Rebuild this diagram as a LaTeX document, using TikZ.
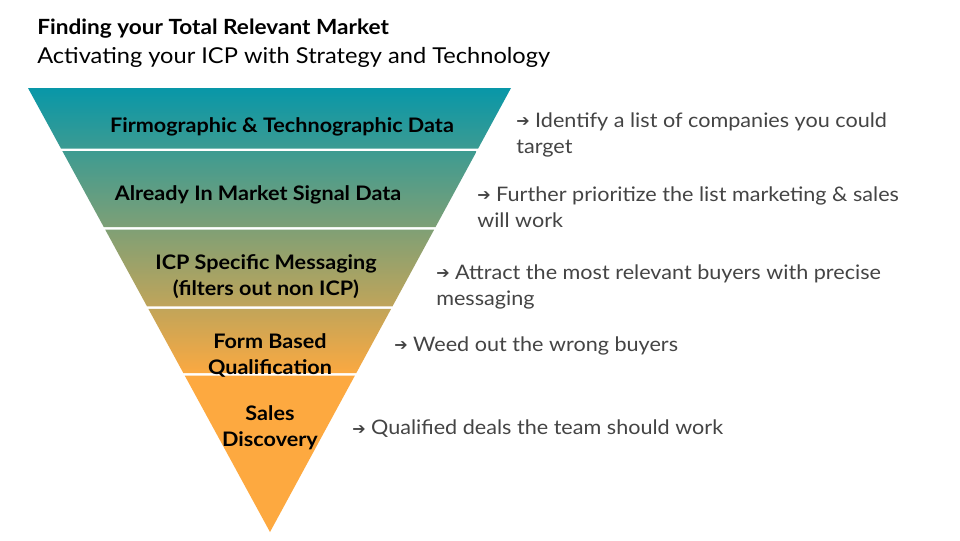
\documentclass[tikz,border=0pt]{standalone}
\usepackage{fontspec}
\setmainfont{Lato}[FakeStretch=1.08]
\newfontfamily\arrowglyph{DejaVu Sans}
\usetikzlibrary{calc}
\definecolor{fTop}{HTML}{0897A8}
\definecolor{fBot}{HTML}{FDA940}
\definecolor{noteGray}{HTML}{444444}
\newcommand{\notearrow}{\raisebox{0.6pt}{\arrowglyph\fontsize{12}{12}\selectfont ➔}\ }
\begin{document}
\begin{tikzpicture}[x=0.75pt, y=-0.75pt,
  lab/.style={font=\bfseries\fontsize{15}{19.5}\selectfont, align=center, inner sep=0pt},
  note/.style={font=\fontsize{15}{19.5}\selectfont, text=noteGray, align=left, anchor=west, inner sep=0pt}]
  \fill[white] (0,0) rectangle (960,540);
  \useasboundingbox (0,0) rectangle (960,540);
  \node[font=\bfseries\fontsize{15.7}{18}\selectfont, anchor=west, inner sep=0pt] (title) at (37,29) {Finding your Total Relevant Market};
  \node[font=\fontsize{16.4}{18}\selectfont, anchor=west, inner sep=0pt] (subtitle) at (37,57) {Activating your ICP with Strategy and Technology};
  % funnel corners
  \coordinate (tl) at (28,88);
  \coordinate (tr) at (511,88);
  \coordinate (ap) at (270,532);
  % bands: top/bottom fraction along the edge, top/bottom colour mix
  \foreach \ta/\tb/\ca/\cb in {0/0.1363/0/21, 0.1419/0.3131/22/48, 0.3187/0.4921/49/75, 0.4977/0.6419/76/99, 0.6475/1/100/100}
    \shade[top color=fBot!\ca!fTop, bottom color=fBot!\cb!fTop]
      ($(tl)!\ta!(ap)$) -- ($(tr)!\ta!(ap)$) -- ($(tr)!\tb!(ap)$) -- ($(tl)!\tb!(ap)$) -- cycle;
  \node[lab] (lab1) at (282,127) {Firmographic \& Technographic Data};
  \node[lab] (lab2) at (258,195) {Already In Market Signal Data};
  \node[lab] (lab3) at (266,277) {ICP Specific Messaging\\(filters out non ICP)};
  \node[lab] (lab4) at (270,355) {Form Based\\Qualification};
  \node[lab] (lab5) at (270,428) {Sales\\Discovery};
  % notes on the right
  \node[note] (note1) at (516,135) {\notearrow Identify a list of companies you could\\target};
  \node[note] (note2) at (477,207) {\notearrow Further prioritize the list marketing \& sales\\will work};
  \node[note] (note3) at (436,287) {\notearrow Attract the most relevant buyers with precise\\messaging};
  \node[note] (note4) at (394,346) {\notearrow Weed out the wrong buyers};
  \node[note] (note5) at (352,429) {\notearrow Qualified deals the team should work};
\end{tikzpicture}
\end{document}
